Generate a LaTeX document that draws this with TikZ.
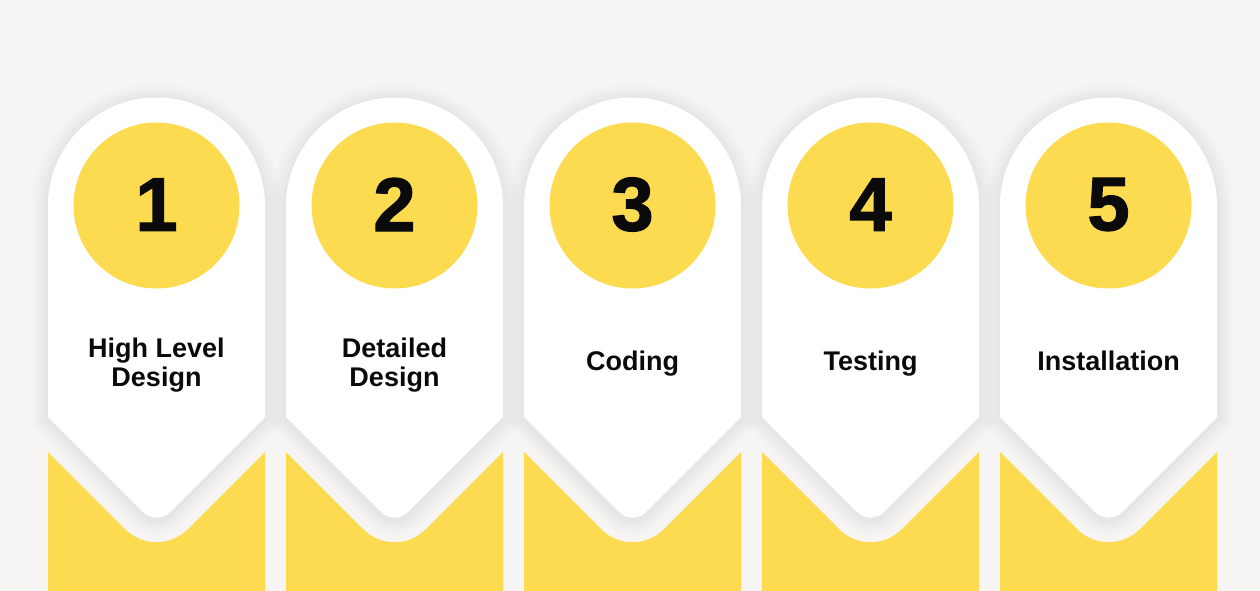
\documentclass[tikz,border=0pt]{standalone}
\usepackage{fontspec}
\setmainfont{Liberation Sans}
\newfontface\numfont{Liberation Sans Bold}[FakeBold=1.6]
\definecolor{bgc}{HTML}{F6F5F3}
\definecolor{ylw}{HTML}{FCDB50}
\definecolor{ink}{HTML}{0A0A0A}
\begin{document}
\begin{tikzpicture}[x=1pt,y=-1pt,
  numtxt/.style={font=\numfont\fontsize{76}{76}\selectfont, text=ink, inner sep=0pt},
  labtxt/.style={font=\bfseries\fontsize{27}{29.5}\selectfont, text=ink, align=center, inner sep=0pt},
  shadowline/.style={draw=black, opacity=0.01, line width=#1}]
\fill[bgc] (0,0) rectangle (1260,591);
\useasboundingbox (0,0) rectangle (1260,591);
\foreach \i/\num in {0/1,1/2,2/3,3/4,4/5}{
  \pgfmathsetmacro{\cx}{156.5+238*\i}
  % yellow base with V notch
  \fill[ylw] ({\cx-108.5},452) -- ({\cx-31.11},529.39)
     .. controls ({\cx-13.93},546.57) and ({\cx+13.93},546.57) .. ({\cx+31.11},529.39)
     -- ({\cx+108.5},452) -- ({\cx+108.5},600) -- ({\cx-108.5},600) -- cycle;
  % card shadow
  \foreach \w in {32,25,19,13,7}{
    \draw[shadowline=\w pt] ({\cx-108.5},208) -- ({\cx-108.5},418) -- ({\cx-13.44},513.06)
      .. controls ({\cx-6.01},520.49) and ({\cx+6.01},520.49) .. ({\cx+13.44},513.06)
      -- ({\cx+108.5},418) -- ({\cx+108.5},208) arc[start angle=0,end angle=-180,radius=108.5] -- cycle;
  }
  % white card
  \fill[white] ({\cx-108.5},206) -- ({\cx-108.5},417) -- ({\cx-13.44},512.06)
      .. controls ({\cx-6.01},519.49) and ({\cx+6.01},519.49) .. ({\cx+13.44},512.06)
      -- ({\cx+108.5},417) -- ({\cx+108.5},206) arc[start angle=0,end angle=-180,radius=108.5] -- cycle;
  % yellow disc
  \fill[ylw] (\cx,205.5) circle[radius=83];
  \node[numtxt] (n\i) at (\cx,204.5) {\num};
}
\node[labtxt, anchor=base] (l0) at (156.5,386.5) {High Level\\Design};
\node[labtxt, anchor=base] (l1) at (394.5,386.5) {Detailed\\Design};
\node[labtxt, anchor=base] (l2) at (632.5,370) {Coding};
\node[labtxt, anchor=base] (l3) at (870.5,370) {Testing};
\node[labtxt, anchor=base] (l4) at (1108.5,370) {Installation};
\end{tikzpicture}
\end{document}
